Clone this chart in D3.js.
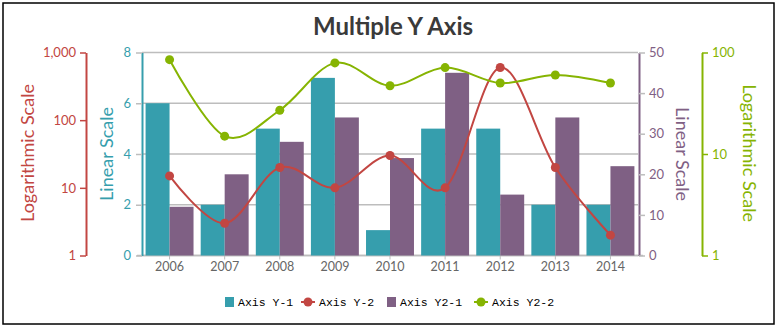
<!DOCTYPE html>
<html><head><meta charset="utf-8">
<script src="https://cdn.jsdelivr.net/npm/d3@7"></script>
<style>html,body{margin:0;padding:0;background:#fff;}svg{display:block;}</style>
</head><body>
<svg id="c" width="779" height="329"></svg>
<script>
const categories = ["2006","2007","2008","2009","2010","2011","2012","2013","2014"];
const axisY1 = [6, 2, 5, 7, 1, 5, 5, 2, 2];            // linear 0-8 (left inner)
const axisY2 = [15, 3, 20, 10, 30, 10, 600, 20, 2];     // log 1-1000 (left outer)
const axisY2_1 = [12, 20, 28, 34, 24, 45, 15, 34, 22];  // linear 0-50 (right inner)
const axisY2_2 = [85, 15, 27, 79, 47, 71, 50, 60, 50];  // log 1-100 (right outer)
const seriesNames = ["Axis Y-1","Axis Y-2","Axis Y2-1","Axis Y2-2"];
const linTicksL = [0,2,4,6,8];
const logTicksL = [1,10,100,1000];
const linTicksR = [0,10,20,30,40,50];
const logTicksR = [1,10,100];

const C = {teal:"#369EAD", red:"#C24642", purple:"#7F6084", green:"#86B402"};
const FONT = "Lato, 'Open Sans', sans-serif";
const svg = d3.select("#c");

const L = 142, R = 638, T = 52.5, B = 255.5;

svg.append("rect").attr("x",3).attr("y",3).attr("width",771).attr("height",321)
  .attr("fill","none").attr("stroke","#000").attr("stroke-width",1.5);

svg.append("text").attr("x",393).attr("y",35).attr("text-anchor","middle")
  .attr("font-family",FONT).attr("font-weight","bold").attr("font-size",24)
  .attr("fill","#3A3A3A").text("Multiple Y Axis");

const x = d3.scaleBand().domain(categories).range([L,R]).paddingInner(0.13).paddingOuter(0.065);
const xs = d3.scaleBand().domain([0,1]).range([0,x.bandwidth()]);
const yL = d3.scaleLinear().domain([0,8]).range([B,T]);
const yLog = d3.scaleLog().domain([1,1000]).range([B,T]);
const yR = d3.scaleLinear().domain([0,50]).range([B,T]);
const yRLog = d3.scaleLog().domain([1,100]).range([B,T]);
const cx = d => x(d) + x.bandwidth()/2;

// gridlines
svg.append("g").selectAll("line").data(linTicksL).join("line")
  .attr("x1",L).attr("x2",R).attr("y1",d=>yL(d)).attr("y2",d=>yL(d))
  .attr("stroke","#BDBDBD").attr("stroke-width",1.5);

// x axis
const xa = svg.append("g").attr("transform",`translate(0,${B})`)
  .call(d3.axisBottom(x).tickSize(4).tickSizeOuter(0).tickPadding(3));
xa.select(".domain").attr("stroke","#BDBDBD").attr("stroke-width",1.5).attr("d",`M${L-5},0H${R+5}`);
xa.selectAll(".tick line").attr("stroke","#BDBDBD");
xa.selectAll("text").attr("font-family",FONT).attr("font-size",12.5).attr("fill","#666");

// bars
const bars = svg.append("g");
categories.forEach((c,i)=>{
  bars.append("rect").attr("x",x(c)+xs(0)).attr("width",xs.bandwidth())
    .attr("y",yL(axisY1[i])).attr("height",B-yL(axisY1[i])).attr("fill",C.teal);
  bars.append("rect").attr("x",x(c)+xs(1)).attr("width",xs.bandwidth())
    .attr("y",yR(axisY2_1[i])).attr("height",B-yR(axisY2_1[i])).attr("fill",C.purple);
});

function styleAxis(g,color){
  g.select(".domain").attr("stroke",color).attr("stroke-width",2);
  g.selectAll(".tick line").attr("stroke","#BDBDBD").attr("stroke-width",1.5);
  g.selectAll("text").attr("font-family",FONT).attr("font-size",13).attr("fill",color);
}
// left log axis
const gLog = svg.append("g").attr("transform","translate(86,0)")
  .call(d3.axisLeft(yLog).tickValues(logTicksL).tickFormat(d3.format(",")).tickSize(6).tickSizeOuter(0).tickPadding(4));
styleAxis(gLog,C.red);
gLog.selectAll(".tick line").attr("stroke",C.red);
// left linear axis
const gLin = svg.append("g").attr("transform",`translate(${L},0)`)
  .call(d3.axisLeft(yL).tickValues(linTicksL).tickSize(6).tickSizeOuter(0).tickPadding(5));
styleAxis(gLin,C.teal);
// right linear axis
const gR = svg.append("g").attr("transform",`translate(${R+1},0)`)
  .call(d3.axisRight(yR).tickValues(linTicksR).tickSize(6).tickSizeOuter(0).tickPadding(4));
styleAxis(gR,C.purple);
// right log axis
const gRL = svg.append("g").attr("transform","translate(702,0)")
  .call(d3.axisRight(yRLog).tickValues(logTicksR).tickFormat(d3.format(",")).tickSize(6).tickSizeOuter(0).tickPadding(4));
styleAxis(gRL,C.green);
gRL.selectAll(".tick line").attr("stroke",C.green);

// axis titles
function vTitle(txt,xp,yp,rot,color){
  svg.append("text").attr("transform",`translate(${xp},${yp}) rotate(${rot})`)
    .attr("text-anchor","middle").attr("dominant-baseline","central")
    .attr("font-family",FONT).attr("font-size",18).attr("fill",color).text(txt);
}
vTitle("Logarithmic Scale",27,153,-90,C.red);
vTitle("Linear Scale",106,154,-90,C.teal);
vTitle("Linear Scale",683,154,90,C.purple);
vTitle("Logarithmic Scale",750,153,90,C.green);

// lines
function series(vals,scale,color){
  const pts = categories.map((c,i)=>[cx(c),scale(vals[i])]);
  svg.append("path").attr("d",d3.line().curve(d3.curveCardinal.tension(0))(pts))
    .attr("fill","none").attr("stroke",color).attr("stroke-width",2);
  svg.append("g").selectAll("circle").data(pts).join("circle")
    .attr("cx",d=>d[0]).attr("cy",d=>d[1]).attr("r",4.5).attr("fill",color);
}
series(axisY2,yLog,C.red);
series(axisY2_2,yRLog,C.green);

// legend
const lg = svg.append("g");
const lgItems = [
  {n:seriesNames[0],c:C.teal,t:"sq",x:225},
  {n:seriesNames[1],c:C.red,t:"ln",x:301},
  {n:seriesNames[2],c:C.purple,t:"sq",x:387},
  {n:seriesNames[3],c:C.green,t:"ln",x:474}
];
const LY = 302;
lgItems.forEach(it=>{
  let tx;
  if(it.t==="sq"){
    lg.append("rect").attr("x",it.x).attr("y",LY-5).attr("width",9).attr("height",10).attr("fill",it.c);
    tx = it.x+13;
  } else {
    lg.append("line").attr("x1",it.x).attr("x2",it.x+14).attr("y1",LY).attr("y2",LY).attr("stroke",it.c).attr("stroke-width",2);
    lg.append("circle").attr("cx",it.x+7).attr("cy",LY).attr("r",4.5).attr("fill",it.c);
    tx = it.x+18;
  }
  lg.append("text").attr("x",tx).attr("y",LY).attr("dominant-baseline","central")
    .attr("font-family","'Liberation Mono', 'Courier New', monospace").attr("font-size",11.5)
    .attr("fill","#000").text(it.n);
});
</script>
</body></html>
